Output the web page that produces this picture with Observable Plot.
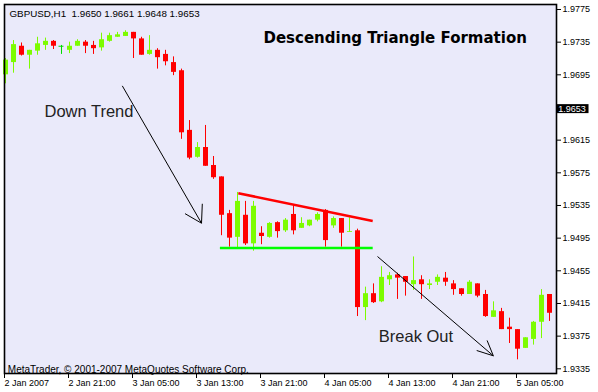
<!DOCTYPE html>
<html><head><meta charset="utf-8">
<script src="https://cdn.jsdelivr.net/npm/d3@7"></script>
<script src="https://cdn.jsdelivr.net/npm/@observablehq/plot@0.6"></script>
<style>body{margin:0;background:#fff}</style>
</head><body><div id="chart"></div>
<script>
// GBPUSD H1, first bar 2 Jan 2007 13:00, one bar per hour
const openP  = [1.9695,1.9710,1.9730,1.9719,1.9724,1.9731,1.9736,1.9730,1.9725,1.9730,1.9735,1.9731,1.9728,1.9736,1.9741,1.9742,1.9747,1.9739,1.9720,1.9725,1.9720,1.9710,1.9700,1.9627,1.9594,1.9606,1.9584,1.9570,1.9525,1.9496,1.9523,1.9488,1.9501,1.9496,1.9514,1.9504,1.9524,1.9507,1.9510,1.9517,1.9529,1.9510,1.9519,1.9502,1.9504,1.9410,1.9427,1.9417,1.9444,1.9450,1.9448,1.9438,1.9444,1.9437,1.9441,1.9446,1.9439,1.9433,1.9426,1.9439,1.9426,1.9398,1.9405,1.9386,1.9383,1.9360,1.9371,1.9392,1.9426];
const highP  = [1.9715,1.9737,1.9734,1.9725,1.9741,1.9740,1.9737,1.9731,1.9735,1.9738,1.9737,1.9736,1.9746,1.9746,1.9747,1.9749,1.9747,1.9741,1.9743,1.9727,1.9725,1.9717,1.9702,1.9639,1.9612,1.9633,1.9595,1.9570,1.9529,1.9551,1.9540,1.9540,1.9509,1.9514,1.9515,1.9519,1.9536,1.9520,1.9517,1.9526,1.9530,1.9521,1.9519,1.9520,1.9506,1.9435,1.9439,1.9460,1.9453,1.9452,1.9448,1.9472,1.9449,1.9444,1.9450,1.9453,1.9443,1.9433,1.9443,1.9439,1.9431,1.9417,1.9409,1.9397,1.9383,1.9373,1.9393,1.9432,1.9426];
const lowP   = [1.9684,1.9697,1.9718,1.9702,1.9719,1.9725,1.9726,1.9720,1.9721,1.9730,1.9721,1.9720,1.9724,1.9735,1.9741,1.9742,1.9715,1.9719,1.9719,1.9702,1.9706,1.9694,1.9616,1.9591,1.9593,1.9583,1.9567,1.9498,1.9484,1.9482,1.9486,1.9479,1.9487,1.9495,1.9495,1.9502,1.9499,1.9507,1.9509,1.9515,1.9484,1.9507,1.9484,1.9502,1.9399,1.9394,1.9415,1.9416,1.9437,1.9420,1.9424,1.9431,1.9420,1.9432,1.9437,1.9436,1.9425,1.9424,1.9426,1.9422,1.9398,1.9398,1.9383,1.9366,1.9346,1.9360,1.9364,1.9372,1.9393];
const closeP = [1.9713,1.9732,1.9719,1.9725,1.9733,1.9736,1.9730,1.9730,1.9730,1.9736,1.9730,1.9727,1.9738,1.9743,1.9744,1.9747,1.9739,1.9719,1.9725,1.9716,1.9711,1.9698,1.9624,1.9593,1.9606,1.9583,1.9569,1.9523,1.9495,1.9540,1.9488,1.9534,1.9497,1.9513,1.9503,1.9517,1.9504,1.9513,1.9517,1.9524,1.9492,1.9519,1.9501,1.9503,1.9410,1.9427,1.9416,1.9447,1.9449,1.9446,1.9441,1.9443,1.9438,1.9439,1.9447,1.9441,1.9432,1.9426,1.9441,1.9424,1.9399,1.9406,1.9383,1.9383,1.9359,1.9373,1.9392,1.9425,1.9403];

const xTickBars   = [0, 8, 16, 24, 32, 40, 48, 56, 64];
const xTickLabels = ["2 Jan 2007","2 Jan 21:00","3 Jan 05:00","3 Jan 13:00","3 Jan 21:00","4 Jan 05:00","4 Jan 13:00","4 Jan 21:00","5 Jan 05:00"];
const yTicks = [1.9775,1.9735,1.9695,1.9615,1.9575,1.9535,1.9495,1.9455,1.9415,1.9375,1.9335];
const currentPrice = 1.9653;

const headerText = "GBPUSD,H1\u00a0\u00a01.9650 1.9661 1.9648 1.9653";
const titleText = "Descending Triangle Formation";
const copyrightText = "MetaTrader, \u00a9 2001-2007 MetaQuotes Software Corp.";
const labelTexts = ["Down Trend", "Break Out"];

// trend lines (bar index, price)
const resistanceLine = [{x1: 29.1, y1: 1.9550, x2: 45.9, y2: 1.9516}];
const supportLine    = [{x1: 26.8, y1: 1.9483, x2: 45.9, y2: 1.9483}];
const arrowSegments = [
  {x1: 14.6, y1: 1.96815, x2: 24.5, y2: 1.95133},
  {x1: 22.44, y1: 1.9525, x2: 24.5, y2: 1.95133},
  {x1: 24.6, y1: 1.95371, x2: 24.5, y2: 1.95133},
  {x1: 46.5, y1: 1.94725, x2: 60.98, y2: 1.93509},
  {x1: 58.9, y1: 1.93574, x2: 60.98, y2: 1.93509},
  {x1: 60.2, y1: 1.93697, x2: 60.98, y2: 1.93509}
];

const candles = openP.map((o, i) => ({i, o, h: highP[i], l: lowP[i], c: closeP[i]}));
const RED = "#FF0000", GREEN = "#7CFC00", DOJI = "#00DD00";
const col = d => d.c > d.o ? GREEN : d.c < d.o ? RED : DOJI;

const font = "Liberation Sans, Arial, sans-serif";
const chart = Plot.plot({
  width: 598, height: 392,
  marginLeft: 4, marginRight: 42, marginTop: 4, marginBottom: 19,
  style: {fontFamily: font, fontSize: "9px", background: "#fff", color: "#000"},
  x: {type: "linear", domain: [-0.125, 68.875]},
  y: {type: "linear", domain: [1.932925, 1.978112]},
  marks: [
    Plot.frame({fill: "#EAEAFA"}),
    Plot.ruleX(candles, {x: "i", y1: "l", y2: "h", stroke: col, strokeWidth: 1}),
    Plot.ruleX(candles, {x: "i", y1: "o", y2: "c", stroke: col, strokeWidth: 5}),
    Plot.ruleY(candles.filter(d => d.o === d.c), {y: "o", x1: d => d.i - 0.3125, x2: d => d.i + 0.3125, stroke: col}),
    Plot.link(resistanceLine, {x1: "x1", y1: "y1", x2: "x2", y2: "y2", stroke: RED, strokeWidth: 2.5}),
    Plot.link(supportLine, {x1: "x1", y1: "y1", x2: "x2", y2: "y2", stroke: "#00FF00", strokeWidth: 2.5}),
    Plot.link(arrowSegments, {x1: "x1", y1: "y1", x2: "x2", y2: "y2", stroke: "#000", strokeWidth: 1}),
    Plot.text([headerText], {text: d => d, frameAnchor: "top-left", dx: 5, dy: 9.3, lineAnchor: "middle", textAnchor: "start", fill: "#000", fontSize: 9.8}),
    Plot.text([titleText], {text: d => d, frameAnchor: "top-left", dx: 259, dy: 34, lineAnchor: "middle", textAnchor: "start", fill: "#000", fontSize: 15, fontWeight: "bold", fontFamily: "DejaVu Sans"}),
    Plot.text([labelTexts[0]], {text: d => d, frameAnchor: "top-left", dx: 40, dy: 107.4, lineAnchor: "middle", textAnchor: "start", fill: "#222", fontSize: 16.5}),
    Plot.text([labelTexts[1]], {text: d => d, frameAnchor: "top-left", dx: 374.3, dy: 332, lineAnchor: "middle", textAnchor: "start", fill: "#222", fontSize: 16.5}),
    Plot.text([copyrightText], {text: d => d, frameAnchor: "top-left", dx: 3.3, dy: 365, lineAnchor: "middle", textAnchor: "start", fill: "#000", fontSize: 10}),
    Plot.frame({stroke: "#000", strokeWidth: 1.6}),
    Plot.rect([currentPrice], {x1: 68.94, x2: 72.94, y1: d => d + 0.00055, y2: d => d - 0.00055, fill: "#000"}),
    Plot.text([currentPrice], {x: 69.1, y: d => d, text: d => d.toFixed(4), textAnchor: "start", fill: "#fff", fontSize: 9}),
    Plot.axisY({anchor: "right", ticks: yTicks, tickFormat: d => d.toFixed(4), tickSize: 4, tickPadding: 2, fontSize: 9}),
    Plot.axisX({anchor: "bottom", ticks: xTickBars, tickFormat: d => xTickLabels[xTickBars.indexOf(d)], tickSize: 5, tickPadding: 1, textAnchor: "start", dx: -1, fontSize: 9})
  ]
});
document.getElementById("chart").appendChild(chart);
</script>
</body></html>
